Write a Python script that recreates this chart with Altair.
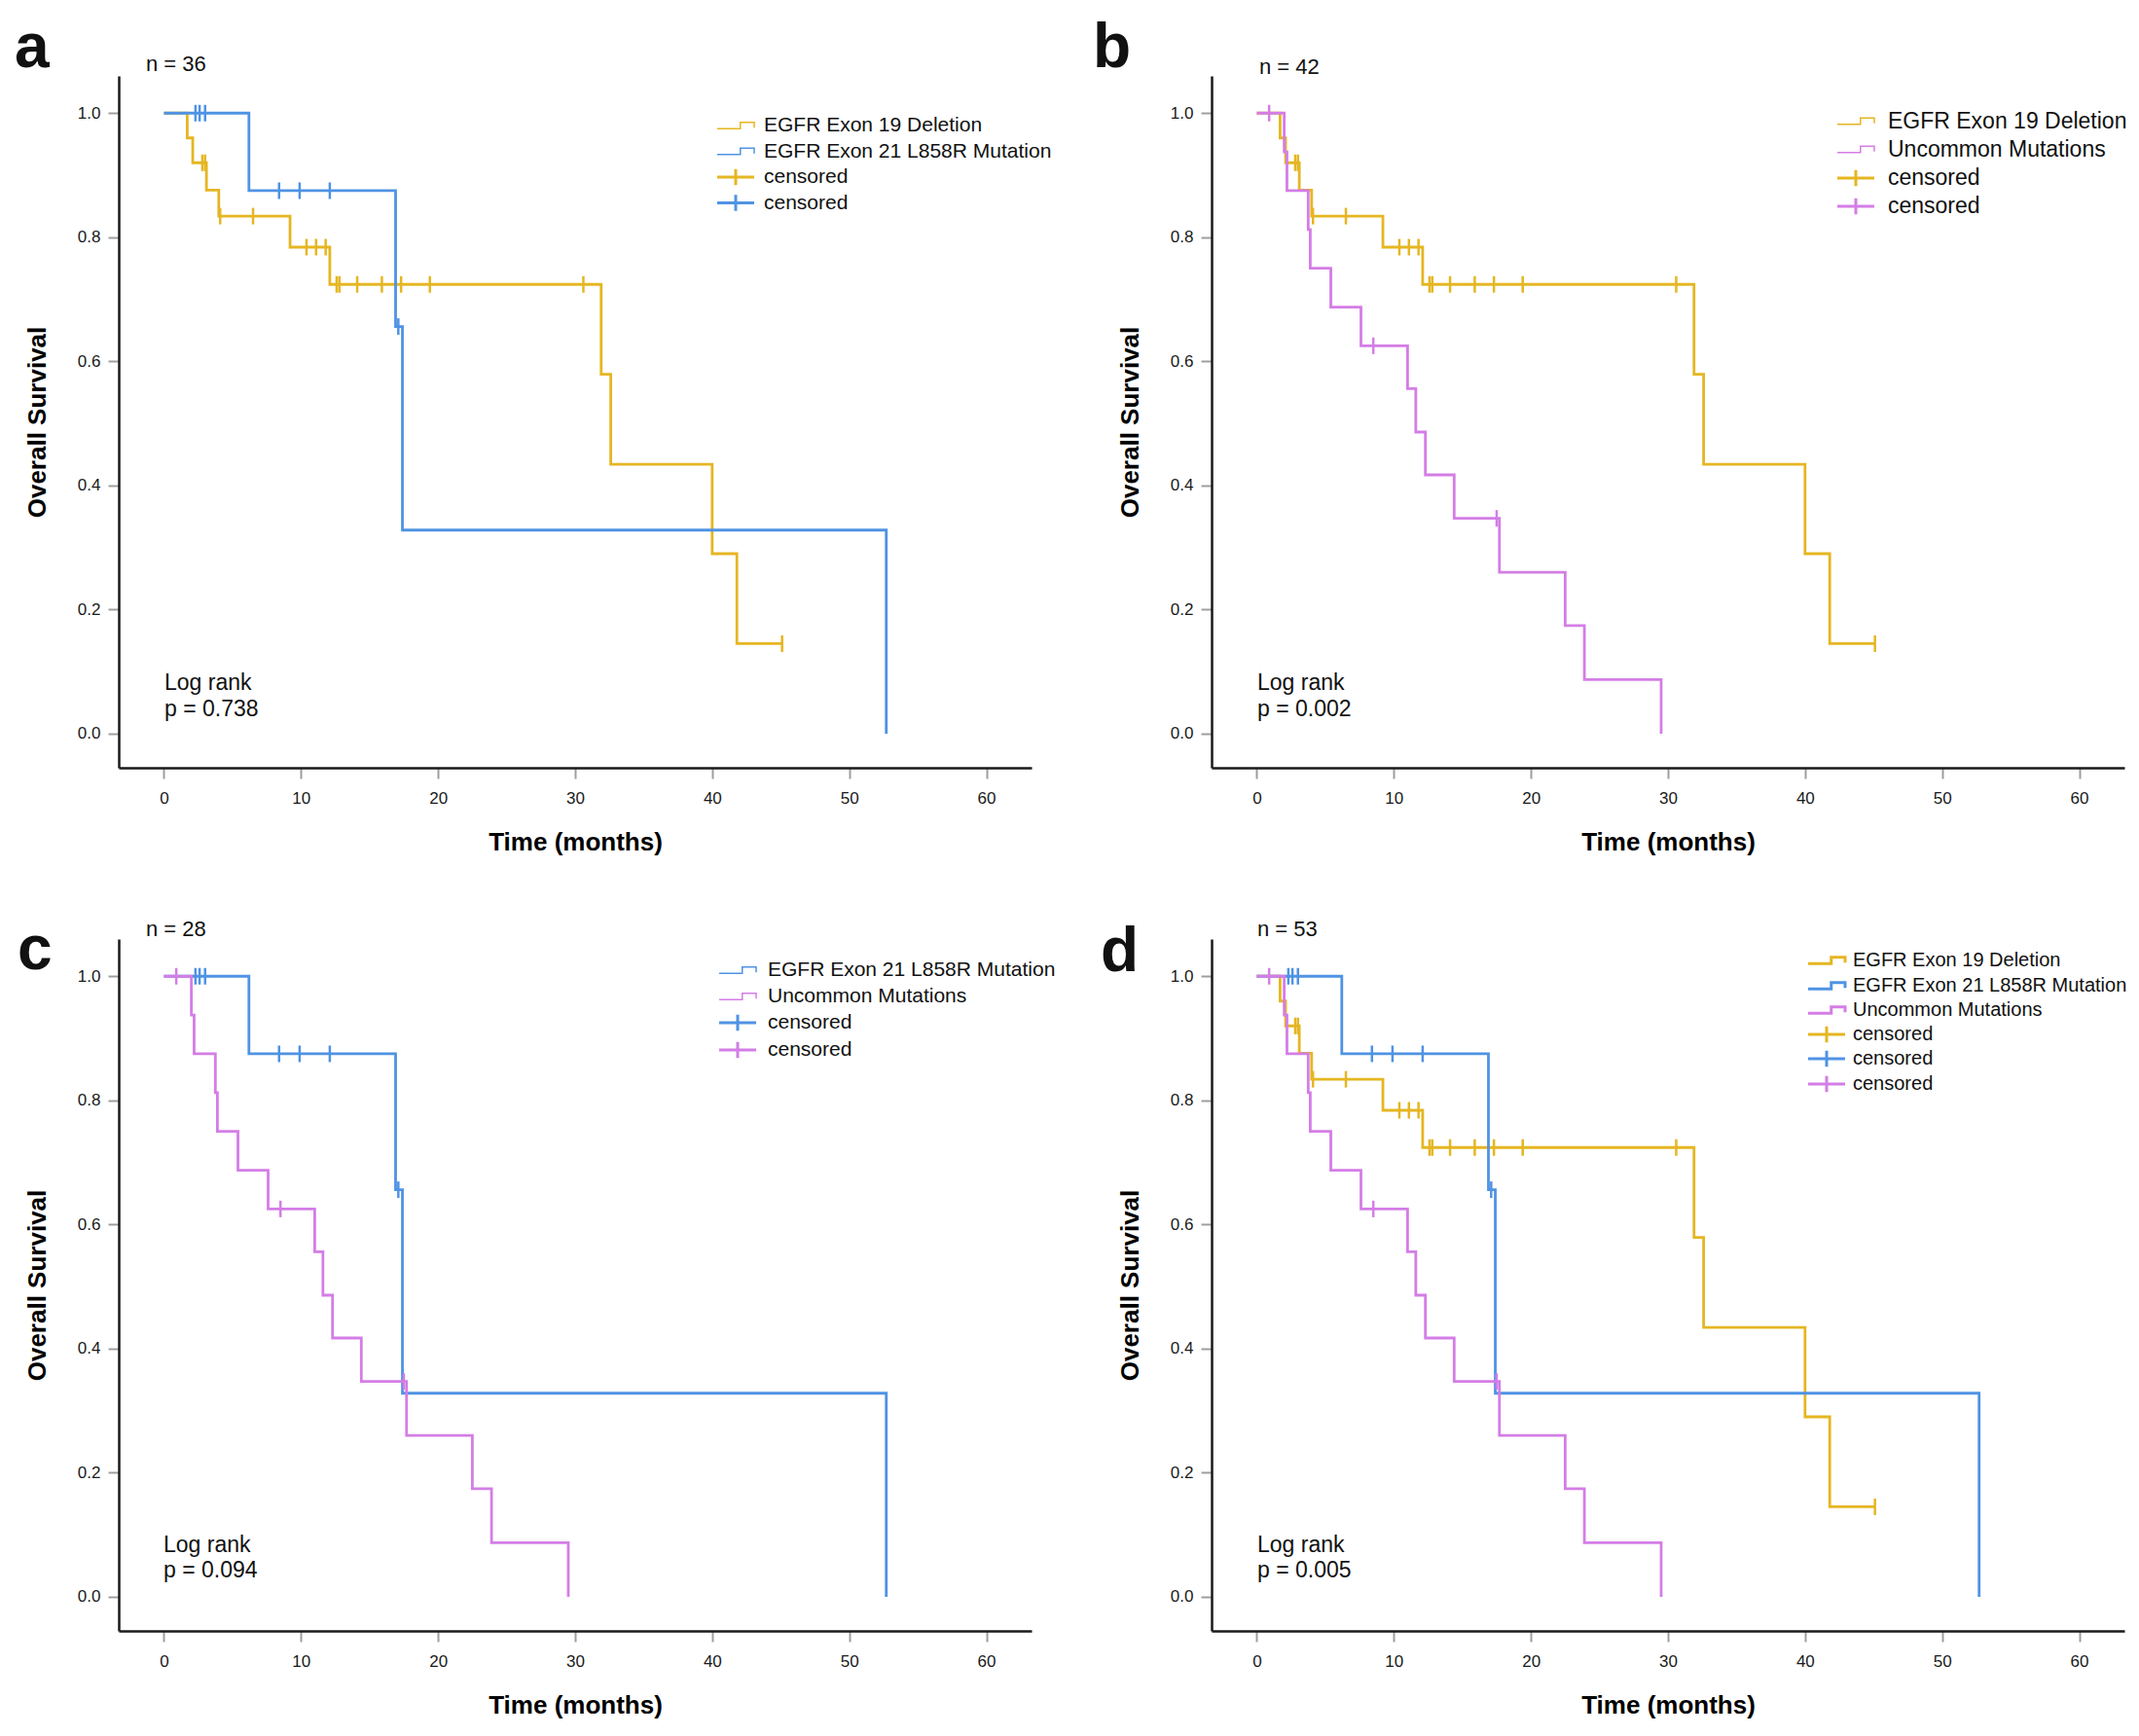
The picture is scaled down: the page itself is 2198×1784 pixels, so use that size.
import altair as alt
import pandas as pd

FONT = "Liberation Sans"

GROUPS = ["EGFR Exon 19 Deletion", "EGFR Exon 21 L858R Mutation", "Uncommon Mutations"]
COLORS = ["#E5B622", "#4F93E4", "#D47DE6"]

# EGFR Exon 19 deletion: step times / survival after each step
EX19_TIMES = [0, 1.7, 2.1, 3.1, 4.0, 9.2, 12.1, 31.9, 32.6, 40.0, 41.8]
EX19_SURV = [1.0, 0.96, 0.92, 0.876, 0.834, 0.784, 0.724, 0.579, 0.434, 0.29, 0.145]
EX19_LAST = 45.1
EX19_CENSORED = [2.8, 3.0, 4.1, 6.5, 10.4, 11.1, 11.8, 12.6, 12.8, 14.1, 15.9, 17.3, 19.4, 30.6, 45.1]

# EGFR Exon 21 L858R mutation
EX21_TIMES = [0, 6.2, 16.9, 17.4, 52.7]
EX21_SURV = [1.0, 0.875, 0.656, 0.328, 0.0]
EX21_LAST = 52.7
EX21_CENSORED = [2.3, 2.6, 3.0, 8.4, 9.9, 12.1, 17.1]

# Uncommon mutations
UNC_TIMES = [0, 2.0, 2.2, 3.75, 3.9, 5.4, 7.6, 11.0, 11.6, 12.3, 14.4, 17.7, 22.5, 23.9, 29.5]
UNC_SURV = [1.0, 0.9375, 0.875, 0.8125, 0.75, 0.6875, 0.625, 0.556, 0.486, 0.417, 0.347, 0.26, 0.174, 0.087, 0.0]
UNC_LAST = 29.5
UNC_CENSORED = [0.9, 8.5, 17.5]

X_TICKS = [0, 10, 20, 30, 40, 50, 60]
Y_TICKS = [0.0, 0.2, 0.4, 0.6, 0.8, 1.0]

PANEL_LETTERS = ["a", "b", "c", "d"]
PANEL_N = ["n = 36", "n = 42", "n = 28", "n = 53"]
PANEL_P = ["p = 0.738", "p = 0.002", "p = 0.094", "p = 0.005"]

SERIES = {
    GROUPS[0]: (EX19_TIMES, EX19_SURV, EX19_LAST, EX19_CENSORED, COLORS[0]),
    GROUPS[1]: (EX21_TIMES, EX21_SURV, EX21_LAST, EX21_CENSORED, COLORS[1]),
    GROUPS[2]: (UNC_TIMES, UNC_SURV, UNC_LAST, UNC_CENSORED, COLORS[2]),
}

W, H = 938, 711
X_SCALE = alt.Scale(domain=[-3.3, 63.3], nice=False, zero=False)
Y_SCALE = alt.Scale(domain=[-0.055, 1.06], nice=False, zero=False)

STEP_PATH = "M-1,0.17H0.25V-0.17H1V0.12"
CENS_PATH = "M-1,0H1M0,-0.44V0.44"


def surv_at(times, surv, t):
    s = surv[0]
    for ti, si in zip(times, surv):
        if ti <= t:
            s = si
    return s


def km_layers(name):
    times, surv, last, cens, color = SERIES[name]
    rows = [{"t": t, "s": s} for t, s in zip(times, surv)]
    if last > times[-1]:
        rows.append({"t": last, "s": surv[-1]})
    line_df = pd.DataFrame(rows)
    cens_df = pd.DataFrame({"t": cens, "s": [surv_at(times, surv, c) for c in cens]})
    line = alt.Chart(line_df).mark_line(
        interpolate="step-after", strokeWidth=2.8, color=color
    ).encode(
        x=alt.X("t:Q", scale=X_SCALE,
                axis=alt.Axis(values=X_TICKS, title="Time (months)", labelFlush=False)),
        y=alt.Y("s:Q", scale=Y_SCALE,
                axis=alt.Axis(values=Y_TICKS, format=".1f", title="Overall Survival", labelFlush=False)),
    )
    ticks = alt.Chart(cens_df).mark_tick(
        orient="vertical", size=17, thickness=2.5, color=color, opacity=1
    ).encode(x=alt.X("t:Q", scale=X_SCALE), y=alt.Y("s:Q", scale=Y_SCALE))
    return [line, ticks]


def label(text, x, y, size, weight="normal", baseline="middle"):
    return alt.Chart(pd.DataFrame({"txt": [text]})).mark_text(
        align="left", baseline=baseline, fontSize=size, fontWeight=weight,
        font=FONT, color="#111"
    ).encode(x=alt.value(x), y=alt.value(y), text="txt:N")


def icon(path, color, x, y, width, sw):
    return alt.Chart(pd.DataFrame({"k": [0]})).mark_point(
        shape=path, size=width * width, filled=False, color=color,
        strokeWidth=sw, opacity=1
    ).encode(x=alt.value(x), y=alt.value(y))


def panel(idx, groups, letter_pos, n_pos, lr_pos, leg):
    layers = []
    for g in groups:
        layers += km_layers(g)
    layers.append(label(PANEL_LETTERS[idx], letter_pos[0], letter_pos[1], 64, "bold", "alphabetic"))
    layers.append(label(PANEL_N[idx], n_pos[0], n_pos[1], 22))
    layers.append(label("Log rank", lr_pos[0], lr_pos[1], 23))
    layers.append(label(PANEL_P[idx], lr_pos[0], lr_pos[2], 23))
    ix, tx, rows, fsize, thin_sw = leg
    entries = [(g, SERIES[g][4], STEP_PATH, thin_sw) for g in groups] + \
              [("censored", SERIES[g][4], CENS_PATH, 3) for g in groups]
    for (txt, col, path, sw), ry in zip(entries, rows):
        layers.append(icon(path, col, ix, ry, 38, sw))
        layers.append(label(txt, tx, ry, fsize))
    return alt.layer(*layers).properties(width=W, height=H)


pa = panel(0, [GROUPS[0], GROUPS[1]], (-107, -9), (28, -12), (47, 624, 651),
           (634, 663, [51, 77.5, 104, 130.5], 21, 1.5))
pb = panel(1, [GROUPS[0], GROUPS[2]], (-122, -9), (49, -9), (47, 624, 651),
           (662, 695, [46.5, 75.5, 105, 134], 23, 1.5))
pc = panel(2, [GROUPS[1], GROUPS[2]], (-104, 31), (28, -10), (46, 623, 649),
           (636, 667, [32, 59, 86, 114], 21, 1.5))
pd_ = panel(3, [GROUPS[0], GROUPS[1], GROUPS[2]], (-114, 33), (47, -10), (47, 623, 649),
            (632, 659, [22, 48, 73, 98, 123, 149], 20, 3))

chart = alt.concat(
    pa, pb, pc, pd_, columns=2, spacing={"row": 176, "column": 185}, bounds="flush"
).properties(
    padding={"left": 7, "top": 10, "right": 0, "bottom": 5}
).configure_view(stroke=None).configure_axis(
    grid=False, domainColor="#1a1a1a", domainWidth=2.5, tickColor="#9e9e9e",
    tickWidth=2, tickSize=11, labelFont=FONT, labelFontSize=17, labelColor="#1a1a1a",
    titleFont=FONT, titleFontSize=26, titleFontWeight="bold", titleColor="#000"
).configure_axisX(labelPadding=12, titlePadding=24).configure_axisY(labelPadding=8, titlePadding=28)

chart.save("out.html", embed_options={"renderer": "svg", "actions": False})
